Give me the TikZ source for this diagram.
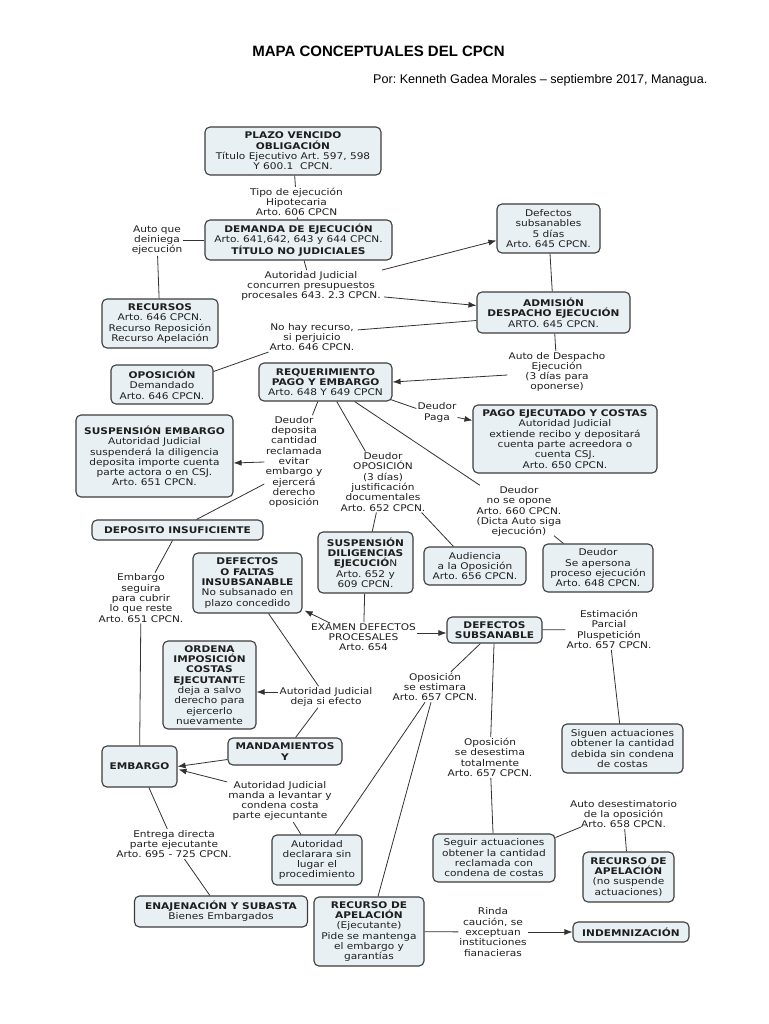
\documentclass[tikz,border=0pt]{standalone}
\usepackage{fontspec}
\setmainfont{DejaVu Sans}[FakeStretch=1.15]
\newfontfamily\titlefont{Liberation Sans}
\usetikzlibrary{arrows.meta,calc}
\definecolor{boxfill}{RGB}{233,240,244}
\definecolor{boxline}{RGB}{60,60,60}
\definecolor{lnc}{RGB}{50,50,50}
\definecolor{txt}{RGB}{30,30,30}
\newcommand{\mapfs}{\fontsize{9.2}{10.3}\selectfont}
\frenchspacing
\begin{document}
\begin{tikzpicture}[x=1pt,y=-1pt,
  box/.style={draw=boxline, fill=boxfill, text=txt, rounded corners=5pt, line width=1.1pt, align=center, inner xsep=2pt, inner ysep=1pt, font=\mapfs},
  sz/.style 2 args={minimum width=#1pt, minimum height=#2pt},
  lbl/.style={align=center, inner sep=1pt, text=txt, font=\mapfs},
  ln/.style={draw=lnc, line width=0.8pt},
  arr/.style={ln, -{Latex[length=8pt,width=6pt]}}]
\fill[white] (0,0) rectangle (768,1024);
\useasboundingbox (0,0) rectangle (768,1024);

\node[anchor=base, font=\titlefont\bfseries\fontsize{15}{17}\selectfont] (title) at (378.5,57) {MAPA CONCEPTUALES DEL CPCN};
\node[anchor=base west, inner sep=0pt, font=\titlefont\fontsize{12.6}{14}\selectfont] (author) at (373,84) {Por: Kenneth Gadea Morales – septiembre 2017, Managua.};

% boxes
\node[box, sz={176}{48}] (plazo) at (293,151) {\textbf{PLAZO VENCIDO}\\\textbf{OBLIGACIÓN}\\Título Ejecutivo Art. 597, 598\\Y 600.1\ \ CPCN.};
\node[box, sz={187}{40}] (demanda) at (298.5,240) {\textbf{DEMANDA DE EJECUCIÓN}\\Arto. 641,642, 643 y 644 CPCN.\\\textbf{TÍTULO NO JUDICIALES}};
\node[box, sz={116}{49}] (recursos) at (160,323.5) {\textbf{RECURSOS}\\Arto. 646 CPCN.\\Recurso Reposición\\Recurso Apelación};
\node[box, sz={103}{49}] (defsub5) at (548.5,228.5) {Defectos\\subsanables\\5 días\\Arto. 645 CPCN.};
\node[box, sz={153}{41}] (admision) at (553.5,312.5) {\textbf{ADMISIÓN}\\\textbf{DESPACHO EJECUCIÓN}\\ARTO. 645 CPCN.};
\node[box, sz={102}{39}] (oposicion) at (162,384.5) {\textbf{OPOSICIÓN}\\Demandado\\Arto. 646 CPCN.};
\node[box, sz={133}{38}] (req) at (325.5,382) {\textbf{REQUERIMIENTO}\\\textbf{PAGO Y EMBARGO}\\Arto. 648 Y 649 CPCN};
\node[box, sz={184}{68}] (pagoej) at (565,439) {\textbf{PAGO EJECUTADO Y COSTAS}\\Autoridad Judicial\\extiende recibo y depositará\\cuenta parte acreedora o\\cuenta CSJ.\\Arto. 650 CPCN.};
\node[box, sz={157}{82}] (suspemb) at (154.5,456) {\textbf{SUSPENSIÓN EMBARGO}\\Autoridad Judicial\\suspenderá la diligencia\\deposita importe cuenta\\parte actora o en CSJ.\\Arto. 651 CPCN.};
\node[box, sz={171}{20}] (depins) at (177.5,530) {\textbf{DEPOSITO INSUFICIENTE}};
\node[box, sz={95}{61}] (suspdil) at (365.5,562.5) {\textbf{SUSPENSIÓN}\\\textbf{DILIGENCIAS}\\\textbf{EJECUCIÓ}N\\Arto. 652 y\\609 CPCN.};
\node[box, sz={102}{38}] (audiencia) at (475,566) {Audiencia\\a la Oposición\\Arto. 656 CPCN.};
\node[box, sz={110}{48}] (apersona) at (598,568) {Deudor\\Se apersona\\proceso ejecución\\Arto. 648 CPCN.};
\node[box, sz={109}{60}] (definsub) at (247.5,583) {\textbf{DEFECTOS}\\\textbf{O FALTAS}\\\textbf{INSUBSANABLE}\\No subsanado en\\plazo concedido};
\node[box, sz={95}{26}] (defsubs) at (494.5,630) {\textbf{DEFECTOS}\\\textbf{SUBSANABLE}};
\node[box, sz={121}{49}] (siguen) at (622.5,748.5) {Siguen actuaciones\\obtener la cantidad\\debida sin condena\\de costas};
\node[box, sz={93}{88}] (ordena) at (209.5,685) {\textbf{ORDENA}\\\textbf{IMPOSICIÓN}\\\textbf{COSTAS}\\\textbf{EJECUTANT}E\\deja a salvo\\derecho para\\ejercerlo\\nuevamente};
\node[box, sz={114}{27}] (mand) at (285,751.5) {\textbf{MANDAMIENTOS}\\\textbf{Y}};
\node[box, sz={75}{41}] (embargo) at (139.5,766.5) {\textbf{EMBARGO}};
\node[box, sz={90}{50}] (autdecl) at (317,860) {Autoridad\\declarara sin\\lugar el\\procedimiento};
\node[box, sz={122}{48}] (seguir) at (494,858) {Seguir actuaciones\\obtener la cantidad\\reclamada con\\condena de costas};
\node[box, sz={91}{50}] (recapns) at (628.5,877) {\textbf{RECURSO DE}\\\textbf{APELACIÓN}\\(no suspende\\actuaciones)};
\node[box, sz={173}{31}] (enaj) at (221,911.5) {\textbf{ENAJENACIÓN Y SUBASTA}\\Bienes Embargados};
\node[box, sz={110}{69}] (recapej) at (369,931.5) {\textbf{RECURSO DE}\\\textbf{APELACIÓN}\\(Ejecutante)\\Pide se mantenga\\el embargo y\\garantías};
\node[box, sz={116}{20}] (indem) at (631,932) {\textbf{INDEMNIZACIÓN}};

% labels
\node[lbl] (tipo) at (296.5,202) {Tipo de ejecución\\Hipotecaria\\Arto. 606 CPCN};
\node[lbl] (autoque) at (157,240) {Auto que\\deiniega\\ejecución};
\node[lbl] (autjud1) at (311,286) {Autoridad Judicial\\concurren presupuestos\\procesales 643. 2.3 CPCN.};
\node[lbl] (nohay) at (312,337) {No hay recurso,\\si perjuicio\\Arto. 646 CPCN.};
\node[lbl] (autodesp) at (557,372) {Auto de Despacho\\Ejecución\\(3 días para\\oponerse)};
\node[lbl] (paga) at (437,412.5) {Deudor\\Paga};
\node[lbl] (deposita) at (294,462) {Deudor\\deposita\\cantidad\\reclamada\\evitar\\embargo y\\ejercerá\\derecho\\oposición};
\node[lbl] (deudorop) at (383,482) {Deudor\\OPOSICIÓN\\(3 días)\\justificación\\documentales\\Arto. 652 CPCN.};
\node[lbl] (noseopone) at (519,511.5) {Deudor\\no se opone\\Arto. 660 CPCN.\\(Dicta Auto siga\\ejecución)};
\node[lbl] (embseg) at (141,598) {Embargo\\seguira\\para cubrir\\lo que reste\\Arto. 651 CPCN.};
\node[lbl] (examen) at (363.5,637) {EXAMEN DEFECTOS\\PROCESALES\\Arto. 654};
\node[lbl] (estim) at (609,629.5) {Estimación\\Parcial\\Pluspetición\\Arto. 657 CPCN.};
\node[lbl] (seestim) at (435,687) {Oposición\\se estimara\\Arto. 657 CPCN.};
\node[lbl] (dejasi) at (326,697) {Autoridad Judicial\\deja si efecto};
\node[lbl] (sedesest) at (490,757.5) {Oposición\\se desestima\\totalmente\\Arto. 657 CPCN.};
\node[lbl] (mandalev) at (280,801) {Autoridad Judicial\\manda a levantar y\\condena costa\\parte ejecuntante};
\node[lbl] (autodesest) at (623.5,814) {Auto desestimatorio\\de la oposición\\Arto. 658 CPCN.};
\node[lbl] (entrega) at (174,844) {Entrega directa\\parte ejecutante\\Arto. 695 - 725 CPCN.};
\node[lbl] (rinda) at (493,932) {Rinda\\caución, se\\exceptuan\\instituciones\\fianacieras};

% connectors
\draw[ln] (plazo) -- (tipo);
\draw[ln] (tipo) -- (demanda);
\draw[ln] (demanda) -- (autoque);
\draw[ln] (autoque) -- (recursos);
\draw[ln] (demanda) -- (autjud1);
\draw[arr] (autjud1.north east) -- ($(defsub5.west)+(0,12)$);
\draw[arr] ($(autjud1.south east)+(2,-5)$) -- ($(admision.west)+(0,-7)$);
\draw[ln] (defsub5) -- (admision);
\draw[ln] ($(admision.west)+(0,8)$) -- ($(nohay.north east)+(2,8)$);
\draw[ln] (nohay.south west) -- ($(oposicion.east)+(0,-13)$);
\draw[ln] (admision) -- (autodesp);
\draw[arr] ($(autodesp.west)+(0,3)$) -- (req.east);
\draw[ln] ($(req.south east)+(-2,-2)$) -- ($(paga.west)+(0,-4)$);
\draw[arr] ($(paga.east)+(0,5)$) -- ($(pagoej.north west)+(0,16)$);
\draw[ln] (req) -- (deposita);
\draw[arr] (deposita.west) -- ($(suspemb.east)+(0,7)$);
\draw[ln] ($(deposita.west)+(0,22)$) -- ($(depins.north)+(19,0)$);
\draw[ln] (req) -- (deudorop);
\draw[ln] (req) -- (noseopone);
\draw[ln] (deudorop) -- (suspdil);
\draw[ln] ($(deudorop.south east)+(-5,0)$) -- ($(audiencia.north west)+(30,0)$);
\draw[ln] ($(noseopone.south)+(35,-2)$) -- ($(apersona.north west)+(21,0)$);
\draw[ln] ($(depins.south)+(-5,0)$) -- ($(embseg.north)+(14,0)$);
\draw[ln] (embseg) -- (embargo);
\draw[ln] (suspdil) -- (examen);
\draw[arr] ($(examen.north west)+(20,1)$) -- ($(definsub.south east)+(2,-3)$);
\draw[arr] ($(examen.east)+(0,-4)$) -- ($(defsubs.west)+(0,3)$);
\draw[ln] (defsubs) -- (estim);
\draw[ln] (estim) -- (siguen);
\draw[ln] (defsubs) -- (seestim);
\draw[ln] ($(seestim.south)+(-10,0)$) -- ($(autdecl.north)+(18,0)$);
\draw[ln] ($(seestim.south)+(-4,0)$) -- ($(recapej.north)+(9,0)$);
\draw[ln] (defsubs) -- (sedesest);
\draw[ln] (sedesest) -- (seguir);
\draw[ln] ($(seguir.north east)+(0,4)$) -- ($(autodesest.south west)+(12,-2)$);
\draw[ln] (autodesest) -- (recapns);
\draw[ln] (definsub) -- (dejasi);
\draw[arr] ($(dejasi.west)+(0,-5)$) -- ($(ordena.east)+(0,7)$);
\draw[ln] (dejasi) -- (mand);
\draw[arr] ($(mand.west)+(0,8)$) -- (embargo.east);
\draw[arr] ($(mandalev.north west)+(0,2)$) -- ($(embargo.east)+(1,3)$);
\draw[ln] (mandalev) -- (autdecl);
\draw[ln] (embargo) -- (entrega);
\draw[ln] (entrega) -- (enaj);
\draw[ln] (recapej) -- (rinda);
\draw[arr] (rinda) -- (indem);
\end{tikzpicture}
\end{document}
